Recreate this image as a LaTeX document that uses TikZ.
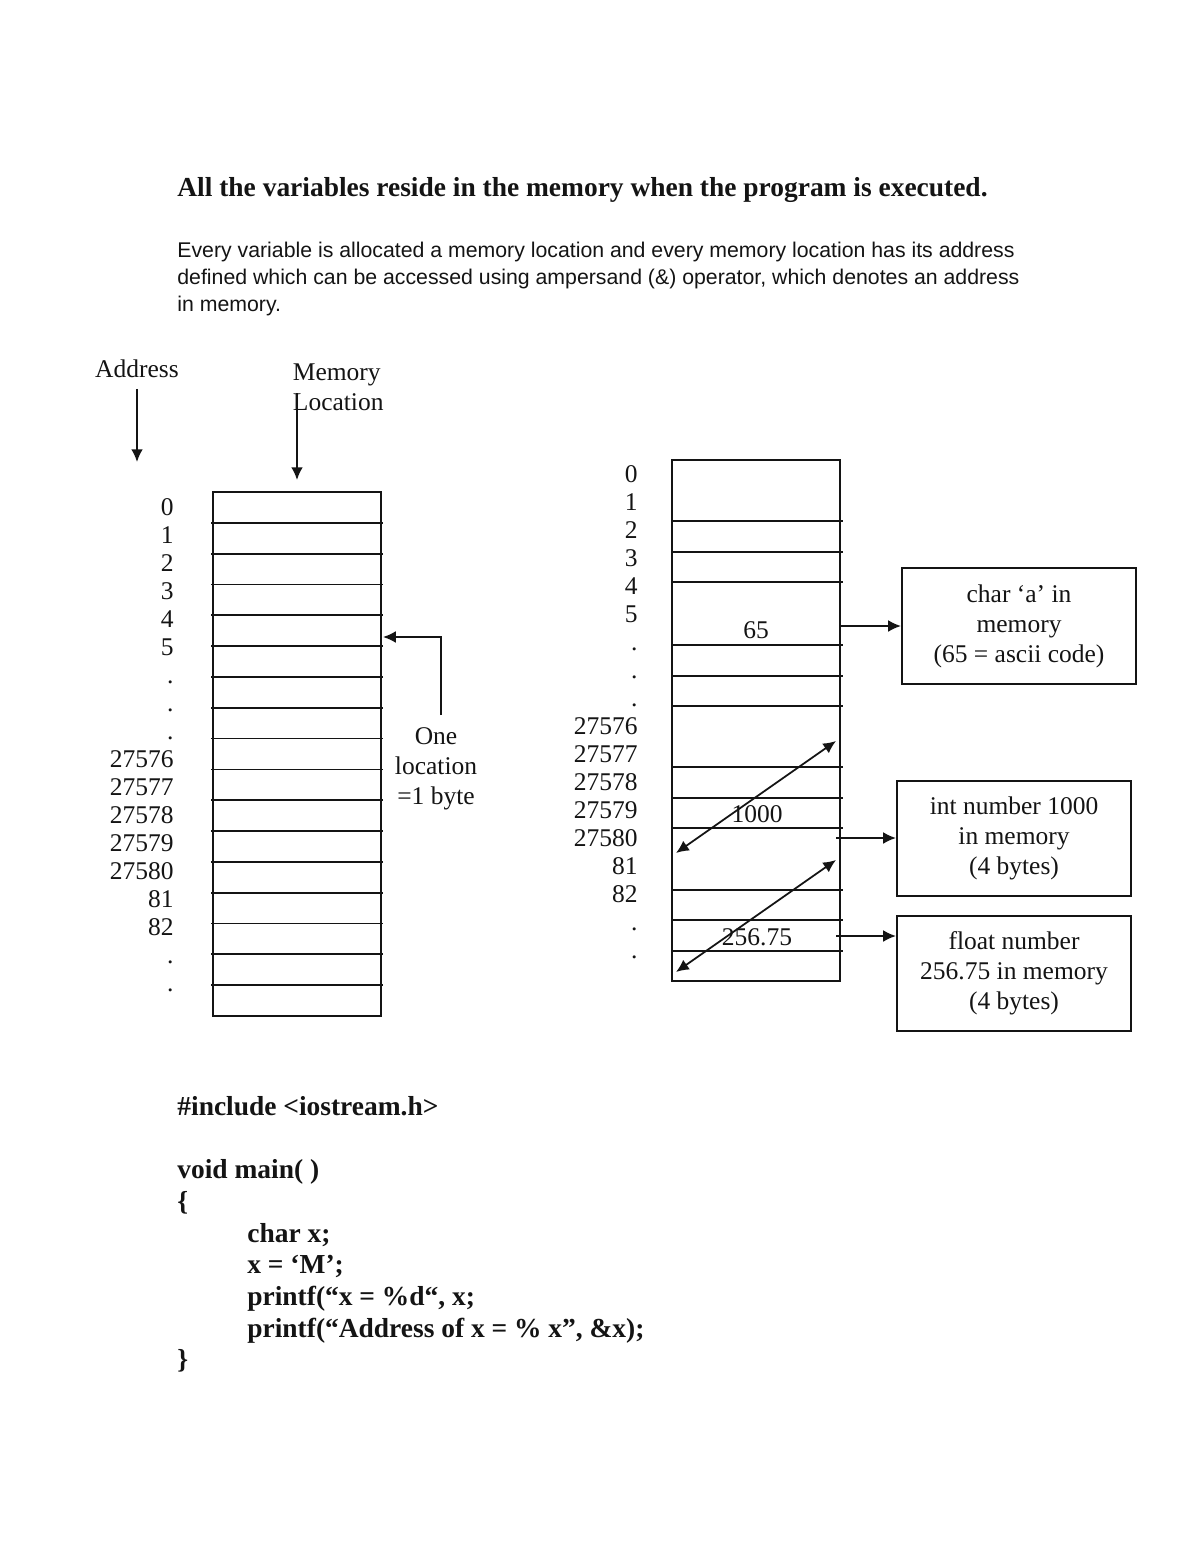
\documentclass[tikz,border=0pt]{standalone}
\usepackage{fontspec}
\setmainfont{Liberation Serif}
\newfontfamily\plainsans{Liberation Sans}
\usetikzlibrary{positioning, arrows.meta, calc}
\definecolor{ink}{RGB}{20,20,20}

\begin{document}
\begin{tikzpicture}[x=0.51pt, y=-0.51pt, ink,
    font=\fontsize{13}{15.3}\selectfont,
    >={Latex[length=6.5pt,width=6pt]},
    cellline/.style={draw, line width=0.9pt},
    addrlabel/.style={anchor=base east, inner sep=0pt},
    infobox/.style={draw, line width=0.9pt, align=center, minimum width=119.5pt,
                    minimum height=59pt, inner sep=1pt},
    codeline/.style={anchor=base west, inner sep=0pt, font=\fontsize{14}{16}\selectfont\bfseries},
    pointer/.style={->, line width=0.9pt}]
  \useasboundingbox[fill=white] (0,0) rectangle (1200,1553);

  % heading and explanation
  \node[anchor=base west, inner sep=0pt, font=\fontsize{14}{16}\selectfont\bfseries] (title) at (177,197)
       {All the variables reside in the memory when the program is executed.};
  \node[anchor=base west, inner sep=0pt, font=\plainsans\fontsize{10.85}{13.8}\selectfont] (para1) at (177,257)
       {Every variable is allocated a memory location and every memory location has its address};
  \node[anchor=base west, inner sep=0pt, font=\plainsans\fontsize{10.85}{13.8}\selectfont] (para2) at (177,284)
       {defined which can be accessed using ampersand (\&) operator, which denotes an address};
  \node[anchor=base west, inner sep=0pt, font=\plainsans\fontsize{10.85}{13.8}\selectfont] (para3) at (177,311)
       {in memory.};

  % left memory column
  \node (addr) at (137,369) {Address};
  \coordinate (addrtip) at (137,462);
  \draw[pointer] ([yshift=-2pt]addr.south) -- (addrtip);
  \node[align=left, anchor=west] (memloc) at (286,387) {Memory\\Location};
  \coordinate (memtop) at (297,393);
  \coordinate (memtip) at (297,480);
  \draw[pointer] (memtop) -- (memtip);

  \draw[cellline] (213,492) rectangle (381,1016);
  \foreach \i in {1,...,16}
    \draw[cellline] (211,{492+30.82*\i}) -- (383,{492+30.82*\i});
  \foreach \t [count=\k from 0] in {0,1,2,3,4,5,.,.,.,27576,27577,27578,27579,27580,81,82,.,.}
    \node[addrlabel] (la\k) at (174,{515+28*\k}) {\t};

  \node[align=center] (onebyte) at (436,769) {One\\location\\=1 byte};
  \coordinate (onefoot) at (441,715);
  \coordinate (onetip) at (383,637);
  \draw[pointer] (onefoot) |- (onetip);

  % right memory column with stored values
  \draw[cellline] (672,460) rectangle (840,981);
  \foreach \y in {521,552,582,645,676,706,767,798,828,890,920,951}
    \draw[cellline] (672,\y) -- (843,\y);
  \foreach \t [count=\k from 0] in {0,1,2,3,4,5,.,.,.,27576,27577,27578,27579,27580,81,82,.,.}
    \node[addrlabel] (ra\k) at (638,{482+28*\k}) {\t};

  \node (val65) at (756,630) {65};
  \node (val1000) at (757,814) {1000};
  \node (val256) at (757,937) {256.75};

  \coordinate (intlo) at (676,853);
  \coordinate (inthi) at (836,741);
  \coordinate (fltlo) at (676,972);
  \coordinate (flthi) at (836,860);
  \draw[pointer, <->] (intlo) -- (inthi);
  \draw[pointer, <->] (fltlo) -- (flthi);

  \node[infobox] (charbox) at (1019,626) {char `a' in\\memory\\(65 = ascii code)};
  \node[infobox] (intbox) at (1014,838.5) {int number 1000\\in memory\\(4 bytes)};
  \node[infobox, minimum height=58.5pt] (floatbox) at (1014,973.5) {float number\\256.75 in memory\\(4 bytes)};

  \coordinate (charfrom) at (840,626);
  \coordinate (intfrom) at (836,838);
  \coordinate (floatfrom) at (836,936);
  \draw[pointer] (charfrom) -- (charbox.west);
  \draw[pointer] (intfrom) -- (intfrom -| intbox.west);
  \draw[pointer] (floatfrom) -- (floatfrom -| floatbox.west);

  % the program
  \node[codeline] (inc) at (177,1115) {\#include <iostream.h>};
  \node[codeline] (mainhd) at (177,1178) {void main( )};
  \node[codeline] (open) at (177,1210) {\{};
  \node[codeline] (decl) at (247,1242) {char x;};
  \node[codeline] (assign) at (247,1273) {x = `M';};
  \node[codeline] (print1) at (247,1305) {printf(``x = \%d``, x;};
  \node[codeline] (print2) at (247,1337) {printf(``Address of x = \% x'', \&x);};
  \node[codeline] (close) at (177,1368) {\}};
\end{tikzpicture}
\end{document}
